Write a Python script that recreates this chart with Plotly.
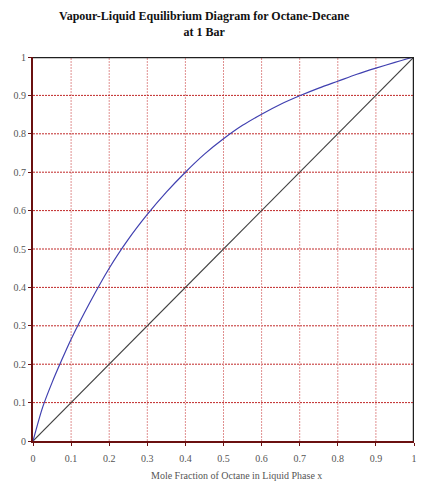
import plotly.graph_objects as go

# Equilibrium curve
x_liquid = [0, 0.025, 0.05, 0.075, 0.1, 0.15, 0.2, 0.25, 0.3, 0.35, 0.4, 0.45,
            0.5, 0.55, 0.6, 0.65, 0.7, 0.75, 0.8, 0.85, 0.9, 0.95, 1.0]
y_vapour = [0, 0.087, 0.152, 0.21, 0.265, 0.362, 0.45, 0.525, 0.59, 0.648, 0.70, 0.747,
            0.787, 0.822, 0.851, 0.877, 0.899, 0.919, 0.937, 0.955, 0.971, 0.986, 1.0]

# y = x reference line
diag_x = [0, 1]
diag_y = [0, 1]

tick_vals = [0, 0.1, 0.2, 0.3, 0.4, 0.5, 0.6, 0.7, 0.8, 0.9, 1]
tick_text = ["0", "0.1", "0.2", "0.3", "0.4", "0.5", "0.6", "0.7", "0.8", "0.9", "1"]

serif = "Liberation Serif, Times New Roman, serif"

fig = go.Figure()

fig.add_trace(go.Scatter(
    x=diag_x, y=diag_y, mode="lines",
    line=dict(color="#404040", width=1.2),
    showlegend=False, hoverinfo="skip",
))

fig.add_trace(go.Scatter(
    x=x_liquid, y=y_vapour, mode="lines",
    line=dict(color="#4040b0", width=1.2, shape="spline", smoothing=0.8),
    showlegend=False,
))

# horizontal grid (darker red dotted) and vertical grid (pink dotted)
for v in tick_vals[1:-1]:
    fig.add_shape(type="line", xref="x", yref="y", x0=0, x1=1, y0=v, y1=v,
                  line=dict(color="#c02828", width=1, dash="2px,1px"), layer="below")
    fig.add_shape(type="line", xref="x", yref="y", x0=v, x1=v, y0=0, y1=1,
                  line=dict(color="#e09090", width=1, dash="2px,1px"), layer="below")

# plot frame: black top/right
fig.add_shape(type="line", xref="x", yref="y", x0=0, x1=1, y0=1, y1=1,
              line=dict(color="#202020", width=2.5))
fig.add_shape(type="line", xref="x", yref="y", x0=1, x1=1, y0=0, y1=1,
              line=dict(color="#202020", width=2.5))

# x-axis title, sits a little right of the plot centre
fig.add_annotation(
    text="Mole Fraction of Octane in Liquid Phase x",
    xref="x", yref="paper", x=0.535, y=0, yshift=-34,
    xanchor="center", yanchor="middle", showarrow=False,
    font=dict(family=serif, size=10, color="#555555"),
)

fig.update_layout(
    width=436, height=496,
    margin=dict(l=25, r=30, t=49, b=63),
    paper_bgcolor="white", plot_bgcolor="white",
    font=dict(family=serif, size=10, color="#555555"),
    title=dict(
        text="<b>Vapour-Liquid Equilibrium Diagram for Octane-Decane<br>at 1 Bar</b>",
        x=0.45, xanchor="center", y=0.975, yanchor="top",
        font=dict(family=serif, size=12, color="#111111"),
    ),
)

fig.update_xaxes(
    range=[0, 1], tickvals=tick_vals, ticktext=tick_text,
    showgrid=False, zeroline=False, automargin=False,
    showline=True, linecolor="#6a1010", linewidth=2,
    ticks="outside", ticklen=3, tickcolor="#6a1010", ticklabelstandoff=4,
)
fig.update_yaxes(
    range=[0, 1], tickvals=tick_vals, ticktext=tick_text,
    showgrid=False, zeroline=False, automargin=False,
    showline=True, linecolor="#6a1010", linewidth=2,
    ticks="outside", ticklen=3, tickcolor="#6a1010",
)

fig.write_html("out.html")
